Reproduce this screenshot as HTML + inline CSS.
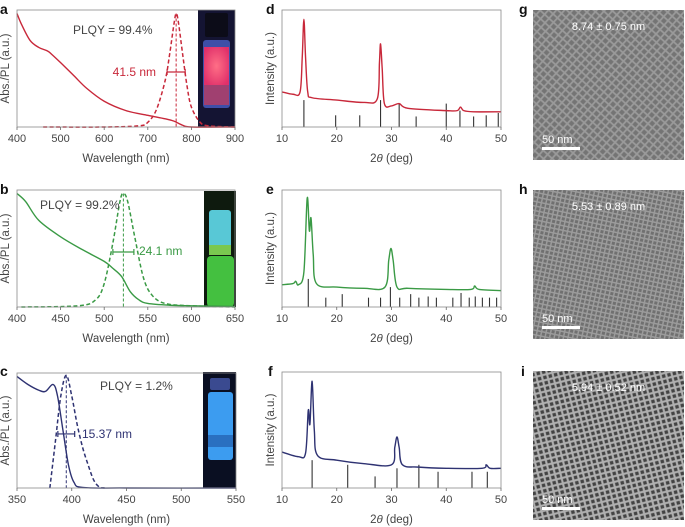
<!DOCTYPE html>
<html><head><meta charset="utf-8"><style>
html,body{margin:0;padding:0;background:#fff;}
svg{display:block;font-family:"Liberation Sans",sans-serif;}
</style></head><body>
<svg id="fig" width="685" height="527" viewBox="0 0 685 527" xmlns="http://www.w3.org/2000/svg">
<defs>
<pattern id="temG" width="6" height="6" patternUnits="userSpaceOnUse" patternTransform="rotate(42)"><rect width="6" height="6" fill="#a8a8a8"/><rect x="1.2" y="1.2" width="4.2" height="4.2" fill="#6a6a6a"/></pattern>
<pattern id="temH" width="4.5" height="4.5" patternUnits="userSpaceOnUse" patternTransform="rotate(12)"><rect width="4.5" height="4.5" fill="#a8a8a8"/><rect x="1" y="1" width="3" height="3" fill="#666"/></pattern>
<pattern id="temI" width="5.5" height="5.5" patternUnits="userSpaceOnUse" patternTransform="rotate(-14)"><rect width="5.5" height="5.5" fill="#bbb"/><rect x="1.3" y="1.3" width="3.4" height="3.4" fill="#333"/></pattern>
<radialGradient id="glowA" cx="0.5" cy="0.5" r="0.6"><stop offset="0" stop-color="#ff6f86"/><stop offset="1" stop-color="#e0306a"/></radialGradient>
</defs>
<g id="panels"></g>
</svg>
<script>
// ---- Panel a (red) ----
const aAbsX=[400,410,430,450,470,480,500,530,560,600,650,700,740,760,780,800,900];
const aAbsY=[0.97,0.88,0.74,0.68,0.65,0.62,0.55,0.44,0.33,0.22,0.14,0.1,0.07,0.05,0.015,0.0,0.0];
const aPLX=[460,600,680,700,720,740,750,760,765,770,780,790,800,820,840,900];
const aPLY=[0,0,0.01,0.04,0.15,0.4,0.62,0.88,0.97,0.9,0.62,0.35,0.17,0.04,0.01,0];
// ---- Panel b (green) ----
const bAbsX=[400,410,425,450,475,500,510,520,530,540,550,575,600,650];
const bAbsY=[0.97,0.9,0.74,0.6,0.49,0.39,0.33,0.26,0.13,0.06,0.03,0.015,0.01,0.005];
const bPLX=[405,470,490,500,510,518,522,527,535,545,555,570,600,650];
const bPLY=[0,0.01,0.06,0.2,0.55,0.9,0.97,0.9,0.6,0.25,0.1,0.03,0.01,0];
// ---- Panel c (navy) ----
const cAbsX=[350,360,370,376,383,387,392,397,402,410,450,550];
const cAbsY=[0.97,0.9,0.85,0.84,0.9,0.8,0.5,0.2,0.05,0.005,0,0];
const cPLX=[380,385,390,395,400,405,410,415,420,425,430];
const cPLY=[0,0.4,0.8,0.98,0.8,0.55,0.35,0.2,0.07,0.01,0];
// ---- XRD panel d ----
const dX=[10,12,13.3,13.7,14,14.3,14.7,15.5,20,25,27.4,27.8,28,28.3,28.7,30,31.4,33,40,42,42.6,43.2,45,50];
const dY=[0.3,0.28,0.3,0.6,0.92,0.6,0.3,0.25,0.23,0.21,0.24,0.55,0.71,0.5,0.2,0.18,0.2,0.16,0.14,0.14,0.17,0.14,0.13,0.13];
const dRefX=[14,19.8,24.2,28,31.4,34.5,40,42.5,45,47.3,49.5];
const dRefH=[0.23,0.1,0.1,0.23,0.2,0.09,0.2,0.14,0.09,0.1,0.12];
// ---- XRD panel e ----
const eX=[10,12,12.5,13,14,14.6,15,15.3,15.7,16.3,20,25,28.8,29.5,29.9,30.3,31,33,40,44.5,45.2,46,50];
const eY=[0.19,0.2,0.22,0.19,0.3,0.93,0.65,0.76,0.45,0.2,0.17,0.16,0.17,0.4,0.5,0.4,0.17,0.16,0.15,0.15,0.18,0.15,0.14];
const eRefX=[14.8,18,21,25.8,28,29.8,31.5,33.5,35,36.7,38.2,41.2,42.7,44.2,45.3,46.6,47.9,49.2];
const eRefH=[0.24,0.08,0.11,0.08,0.08,0.17,0.08,0.11,0.08,0.09,0.08,0.08,0.12,0.08,0.09,0.08,0.08,0.08];
// ---- XRD panel f ----
const fX=[10,13,14.3,14.8,15.1,15.5,15.9,16.5,20,25,30,30.6,31,31.4,32,35,40,46.5,47.3,48,50];
const fY=[0.31,0.27,0.3,0.67,0.55,0.92,0.5,0.28,0.24,0.21,0.2,0.35,0.44,0.35,0.2,0.18,0.17,0.17,0.2,0.17,0.17];
const fRefX=[15.5,22,27,31,35,38.5,44.7,47.5];
const fRefH=[0.24,0.2,0.1,0.17,0.2,0.14,0.14,0.14];
// ticks
const aTicks=[400,500,600,700,800,900];
const bTicks=[400,450,500,550,600,650];
const cTicks=[350,400,450,500,550];
const xrdTicks=[10,20,30,40,50];

const NS="http://www.w3.org/2000/svg";
const root=document.getElementById('panels');
function mk(tag,attrs,parent,text){const e=document.createElementNS(NS,tag);for(const k in attrs)e.setAttribute(k,attrs[k]);if(text!==undefined)e.textContent=text;(parent||root).appendChild(e);return e;}
function smooth(pts){let d='M'+pts[0][0].toFixed(2)+','+pts[0][1].toFixed(2);for(let i=0;i<pts.length-1;i++){const p0=pts[i-1]||pts[i],p1=pts[i],p2=pts[i+1],p3=pts[i+2]||p2;const c1=[p1[0]+(p2[0]-p0[0])/6,p1[1]+(p2[1]-p0[1])/6],c2=[p2[0]-(p3[0]-p1[0])/6,p2[1]-(p3[1]-p1[1])/6];d+='C'+c1[0].toFixed(2)+','+c1[1].toFixed(2)+' '+c2[0].toFixed(2)+','+c2[1].toFixed(2)+' '+p2[0].toFixed(2)+','+p2[1].toFixed(2);}return d;}

function axesFrame(g,L,R,T,B,ticks,xs,xlabel,ylabel,ylx,italic){
  const fr=mk('rect',{x:L,y:T,width:R-L,height:B-T,fill:'none',stroke:'#8a8a8a','stroke-width':0.8},g);
  
  
  ticks.forEach(t=>{
    const tx=xs(t);
    const tl=mk('line',{x1:tx,x2:tx,y1:B,y2:B+3,stroke:'#666','stroke-width':0.8},g);
    
    
    const lb=mk('text',{x:tx,y:B+15,'font-size':11,fill:'#444','text-anchor':'middle'},g,String(t));
    
    
  });
  const xl=mk('text',{x:(L+R)/2,y:B+35,'font-size':11.5,fill:'#444','text-anchor':'middle'},g);
  
  
  if(italic){mk('tspan',{},xl,'2');mk('tspan',{'font-style':'italic'},xl,'θ');mk('tspan',{},xl,' (deg)');}else xl.textContent=xlabel;
  const yl=mk('text',{x:0,y:0,'font-size':11.5,fill:'#444','text-anchor':'middle',transform:`translate(${ylx},${(T+B)/2}) rotate(-90)`},g,ylabel);
  
  
}
function panelLabel(ch,x,y){const t=mk('text',{x:x,y:y,'font-size':14,'font-weight':'bold',fill:'#111'},root,ch);}

function specPanel(o){
  const g=mk('g',{});
  
  
  const xs=v=>o.L+(v-o.x0)/(o.x1-o.x0)*(o.R-o.L);
  const ys=v=>o.B-v*(o.B-o.T);
  const vg=mk('g',{},g);
  
  
  o.vial(vg);
  const abs=mk('path',{d:smooth(o.absX.map((v,i)=>[xs(v),ys(o.absY[i])])),fill:'none',stroke:o.col,'stroke-width':1.4},g);
  
  
  const pl=mk('path',{d:smooth(o.plX.map((v,i)=>[xs(v),ys(o.plY[i])])),fill:'none',stroke:o.col,'stroke-width':1.5,'stroke-dasharray':'4,2.5'},g);
  
  
  const pk=o.plX[o.plY.indexOf(Math.max(...o.plY))];
  const vl=mk('line',{x1:xs(pk),x2:xs(pk),y1:ys(Math.max(...o.plY)),y2:o.B,stroke:o.col,'stroke-width':1,'stroke-dasharray':'3,2'},g);
  
  
  const hy=ys(0.47),x1=xs(pk-o.fwhm/2),x2=xs(pk+o.fwhm/2);
  const fb=mk('path',{d:`M${x1},${hy}H${x2}M${x1},${hy-3}V${hy+3}M${x2},${hy-3}V${hy+3}`,stroke:o.col,'stroke-width':1.2,fill:'none'},g);
  
  
  const ft=mk('text',{x:o.fx,y:o.fy,'font-size':12,fill:o.col,'text-anchor':o.fa},g,o.fwhmText);
  
  
  const pq=mk('text',{x:o.qx,y:o.qy,'font-size':12,fill:'#444'},g,o.plqy);
  
  
  axesFrame(g,o.L,o.R,o.T,o.B,o.ticks,xs,'Wavelength (nm)','Abs./PL (a.u.)',9,false);
}
function xrdPanel(o){
  const g=mk('g',{});
  
  
  const xs=v=>o.L+(v-10)/40*(o.R-o.L);
  const ys=v=>o.B-v*(o.B-o.T);
  o.refX.forEach((v,i)=>{
    const r=mk('line',{x1:xs(v),x2:xs(v),y1:o.B,y2:ys(o.refH[i]),stroke:'#333','stroke-width':1.1},g);
    
    
  });
  const c=mk('path',{d:smooth(o.x.map((v,i)=>[xs(v),ys(o.y[i])])),fill:'none',stroke:o.col,'stroke-width':1.4},g);
  
  
  axesFrame(g,o.L,o.R,o.T,o.B,xrdTicks,xs,'','Intensity (a.u.)',274,true);
}
function tem(name,x,y,w,h,pat,label,ov){
  const g=mk('g',{});
  
  
  mk('rect',{x:x,y:y,width:w,height:h,fill:`url(#${pat})`},g);
  mk('rect',{x:x,y:y,width:w,height:h,fill:'#858585','fill-opacity':ov},g);
  const t=mk('text',{x:x+w/2,y:y+20,'font-size':11,fill:'#fff','text-anchor':'middle'},g,label);
  
  
  const s=mk('text',{x:x+9,y:y+h-17,'font-size':11,fill:'#fff'},g,'50 nm');
  
  
  const sb=mk('rect',{x:x+9,y:y+h-13,width:38,height:3,fill:'#fff'},g);
  
  
}

specPanel({name:'panel-a',L:17,R:235,T:10,B:127,x0:400,x1:900,col:'#c8283a',absX:aAbsX,absY:aAbsY,plX:aPLX,plY:aPLY,fwhm:41.5,fwhmText:'41.5 nm',fx:156,fy:76,fa:'end',plqy:'PLQY = 99.4%',qx:73,qy:34,ticks:aTicks,
 vial:g=>{mk('rect',{x:198,y:10,width:37,height:117,fill:'#141433'},g);mk('rect',{x:205,y:13,width:23,height:24,rx:2,fill:'#0c0c18'},g);mk('rect',{x:203,y:40,width:27,height:68,rx:3,fill:'#3e4fa8'},g);mk('rect',{x:204,y:47,width:25,height:38,fill:'url(#glowA)'},g);mk('rect',{x:204,y:85,width:25,height:20,fill:'#a04070'},g);}});
specPanel({name:'panel-b',L:17,R:235,T:190,B:307,x0:400,x1:650,col:'#3a9a45',absX:bAbsX,absY:bAbsY,plX:bPLX,plY:bPLY,fwhm:24.1,fwhmText:'24.1 nm',fx:139,fy:255,fa:'start',plqy:'PLQY = 99.2%',qx:40,qy:209,ticks:bTicks,
 vial:g=>{mk('rect',{x:204,y:191,width:32,height:116,fill:'#0e1a0e'},g);mk('rect',{x:209,y:210,width:22,height:40,rx:3,fill:'#58c8d6'},g);mk('rect',{x:209,y:245,width:22,height:10,fill:'#7ac850'},g);mk('rect',{x:207,y:256,width:27,height:51,rx:4,fill:'#44c040'},g);}});
specPanel({name:'panel-c',L:17,R:236,T:373,B:488,x0:350,x1:550,col:'#2e3272',absX:cAbsX,absY:cAbsY,plX:cPLX,plY:cPLY,fwhm:15.37,fwhmText:'15.37 nm',fx:82,fy:438,fa:'start',plqy:'PLQY = 1.2%',qx:100,qy:390,ticks:cTicks,
 vial:g=>{mk('rect',{x:203,y:372,width:33,height:116,fill:'#0a0f22'},g);mk('rect',{x:210,y:378,width:20,height:12,rx:2,fill:'#3a4a90'},g);mk('rect',{x:208,y:392,width:25,height:68,rx:3,fill:'#3c9cf0'},g);mk('rect',{x:208,y:435,width:25,height:12,fill:'#2a70c0'},g);}});
xrdPanel({name:'panel-d',L:282,R:501,T:10,B:127,col:'#c8283a',x:dX,y:dY,refX:dRefX,refH:dRefH});
xrdPanel({name:'panel-e',L:282,R:501,T:190,B:307,col:'#3a9a45',x:eX,y:eY,refX:eRefX,refH:eRefH});
xrdPanel({name:'panel-f',L:282,R:501,T:372,B:488,col:'#2e3272',x:fX,y:fY,refX:fRefX,refH:fRefH});
tem('tem-image-g',533,10,151,150,'temG','8.74 ± 0.75 nm',0.4);
tem('tem-image-h',533,190,151,149,'temH','5.53 ± 0.89 nm',0.35);
tem('tem-image-i',533,371,151,149,'temI','5.94 ± 0.52 nm',0.2);
panelLabel('a',0,14);panelLabel('b',0,194);panelLabel('c',0,376);
panelLabel('d',266,14);panelLabel('e',266,194);panelLabel('f',268,376);
panelLabel('g',519,14);panelLabel('h',519,194);panelLabel('i',521,376);
</script>
</body></html>
